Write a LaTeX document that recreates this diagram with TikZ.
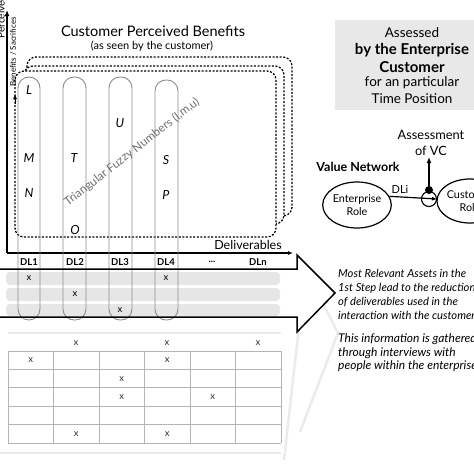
\documentclass[tikz,border=0pt]{standalone}
\usepackage{fontspec}
\setmainfont{Lato}
\usetikzlibrary{arrows.meta,shapes.geometric}
\definecolor{pillarc}{HTML}{8C8C8C}
\definecolor{bandc}{HTML}{E6E6E6}
\definecolor{boxc}{HTML}{E8E8E8}
\definecolor{gridc}{HTML}{B4B4B4}
\definecolor{ghostc}{HTML}{EBEBEB}
\definecolor{fuzzc}{HTML}{707070}
\begin{document}
\begin{tikzpicture}[x=1pt,y=-1pt,
  card/.style={draw=black,line width=1.3pt,dash pattern=on 2pt off 1.6pt,rounded corners=9pt,fill=white},
  pillar/.style={draw=pillarc,line width=0.9pt,rounded corners=11pt},
  band/.style={fill=bandc,rounded corners=4pt},
  axis/.style={draw=black,line width=1.2pt},
  xm/.style={inner sep=0pt,font=\fontsize{9.5}{10}\selectfont},
  xg/.style={inner sep=0pt,font=\fontsize{9.5}{10}\selectfont,text=black!80},
  dl/.style={inner sep=0pt,font=\bfseries\fontsize{9.5}{10}\selectfont},
  gridl/.style={draw=gridc,line width=0.7pt},
  lett/.style={inner sep=0pt,font=\itshape\fontsize{12.5}{13}\selectfont},
  rtxt/.style={anchor=base west,inner sep=0pt,font=\itshape\fontsize{11.2}{12}\selectfont},
  rtxtb/.style={anchor=base west,inner sep=0pt,font=\itshape\fontsize{12}{13}\selectfont},
  boxt/.style={inner sep=0pt,font=\fontsize{13.5}{15}\selectfont},
  boxtb/.style={inner sep=0pt,font=\bfseries\fontsize{15}{16}\selectfont},
  role/.style={draw=black,line width=1.2pt,ellipse,minimum width=62pt,minimum height=46pt,inner sep=0pt,align=center,font=\fontsize{10.8}{12.5}\selectfont},
  tip/.style={-{Latex[length=6pt,width=5pt]}}
]
\useasboundingbox (0,0) rectangle (474,474);
\clip (0,0) rectangle (474,474);

% ghost chevron behind the lower table
\draw[ghostc,line width=2.5pt] (300,258) -- (338,333) -- (300,432);
\draw[ghostc,line width=2.5pt] (300,318) -- (284,460);
\draw[ghostc,line width=1.5pt] (8,333) -- (281,333);
\draw[ghostc,line width=1.5pt] (0,453) -- (281,453);

% lower table
\foreach \x in {8,53.5,99,144.5,190,235.5,281} \draw[gridl] (\x,351) -- (\x,443);
\foreach \y in {351,369.4,387.8,406.2,424.6,443} \draw[gridl] (8,\y) -- (281,\y);
\node[xg] (t0a) at (76,343) {x};
\node[xg] (t0b) at (167,343) {x};
\node[xg] (t0c) at (258,343) {x};
\node[xg] (t1a) at (30.75,360) {x};
\node[xg] (t1b) at (167.25,360) {x};
\node[xg] (t2a) at (121.75,378.6) {x};
\node[xg] (t3a) at (121.75,397) {x};
\node[xg] (t3b) at (212.75,397) {x};
\node[xg] (t5a) at (76.25,433.8) {x};
\node[xg] (t5b) at (167.25,433.8) {x};

% stacked dashed cards
\draw[card] (27,57) rectangle (292,216);
\draw[card] (24,66) rectangle (284,224);
\draw[card] (15,71) rectangle (276,237);
\draw[-{Latex[length=5pt,width=4pt]},line width=0.9pt] (15,104) -- (15,94);

% axes
\coordinate (orig) at (7,253);
\coordinate (ytop) at (7,10);
\coordinate (xend) at (293,253);
\draw[axis,tip] (orig) -- (ytop);
\draw[axis,-{Latex[length=5pt,width=4pt]}] (orig) -- (xend);
\node[rotate=90,inner sep=0pt,font=\fontsize{10}{12}\selectfont] (perc) at (1,17) {Perceived};
\node[rotate=90,inner sep=0pt,font=\fontsize{8}{9}\selectfont] (bens) at (13,52) {Benefits / Sacrifices};
\node[inner sep=0pt,font=\fontsize{12.5}{14}\selectfont] (deliv) at (248,245) {Deliverables};

% titles
\node[inner sep=0pt,font=\fontsize{14.5}{16}\selectfont] (title) at (153,31) {Customer Perceived Benefits};
\node[inner sep=0pt,font=\fontsize{11}{12}\selectfont] (subtitle) at (152,46) {(as seen by the customer)};

% big arrow band
\draw[fill=white,draw=none] (-5,269) -- (297,269) -- (297,255) -- (335,293) -- (297,332) -- (297,317) -- (-5,317) -- cycle;
\fill[band] (6,272) rectangle (280,285);
\fill[band] (6,288) rectangle (280,301);
\fill[band] (6,304) rectangle (280,316);

% pillars
\draw[pillar] (18,77) rectangle (40,320);
\draw[pillar] (63,77) rectangle (86,320);
\draw[pillar] (109,77) rectangle (132,320);
\draw[pillar] (155,80) rectangle (178,320);

\draw[line width=1.5pt,line join=miter] (-5,269) -- (297,269) -- (297,255) -- (335,293) -- (297,332) -- (297,317) -- (-5,317);

% header labels
\node[dl] (dl1) at (29,262) {DL1};
\node[dl] (dl2) at (75,262) {DL2};
\node[dl] (dl3) at (120,262) {DL3};
\node[dl] (dl4) at (166,262) {DL4};
\node[dl] (dld) at (212,262) {...};
\node[dl] (dln) at (258,262) {DLn};

% x marks in the arrow
\node[xm] (x1) at (29,278.5) {x};
\node[xm] (x2) at (166,278.5) {x};
\node[xm] (x3) at (75,294.5) {x};
\node[xm] (x4) at (120,310.5) {x};

% letters in pillars
\node[lett] (lL) at (29,90) {L};
\node[lett] (lM) at (29,158) {M};
\node[lett] (lN) at (29,193) {N};
\node[lett] (lT) at (74,158) {T};
\node[lett] (lO) at (75,230) {O};
\node[lett] (lU) at (120,123) {U};
\node[lett] (lS) at (166,160) {S};
\node[lett] (lP) at (166,195) {P};

\node[rotate=38,inner sep=0pt,text=fuzzc,font=\fontsize{11.8}{13}\selectfont] (fuzzy) at (132,152) {Triangular Fuzzy Numbers (l,m,u)};

% assessed box
\fill[boxc] (335,20) rectangle (500,110);
\node[boxt] (b1) at (412,33) {Assessed};
\node[boxtb] (b2) at (412,50) {by the Enterprise};
\node[boxtb] (b3) at (412,67) {Customer};
\node[boxt] (b4) at (412,83) {for an particular};
\node[boxt] (b5) at (412,99) {Time Position};

% value network
\node[inner sep=0pt,font=\fontsize{12.8}{14}\selectfont] (as1) at (431,135) {Assessment};
\node[inner sep=0pt,font=\fontsize{12.8}{14}\selectfont] (as2) at (431,151) {of VC};
\node[inner sep=0pt,font=\bfseries\fontsize{12.5}{14}\selectfont] (vn) at (358,167) {Value Network};
\node[role] (ent) at (357,205) {Enterprise\\Role};
\node[role,minimum width=66pt,minimum height=44pt] (cust) at (470,201) {Customer\\Role};
\node[draw=black,line width=1.1pt,circle,minimum size=15pt,inner sep=0pt] (hub) at (429,199) {};
\node[fill=black,circle,minimum size=8pt,inner sep=0pt] (dot) at (429,190) {};
\node[inner sep=0pt,font=\fontsize{11}{12}\selectfont] (dli) at (400,189) {DLi};
\draw[line width=1.2pt,-{Latex[length=5pt,width=4pt]}] (ent.15) -- (hub.east);
\draw[line width=1.5pt,tip] (dot) -- (429,157);

% right italic text
\node[rtxt] (r1) at (338,277) {Most Relevant Assets in the};
\node[rtxt] (r2) at (338,291) {1st Step lead to the reduction};
\node[rtxt] (r3) at (338,305) {of deliverables used in the};
\node[rtxt] (r4) at (338,319) {interaction with the customer};
\node[rtxtb] (r5) at (338,342) {This information is gathered};
\node[rtxtb] (r6) at (338,356) {through interviews with};
\node[rtxtb] (r7) at (338,369) {people within the enterprise};
\end{tikzpicture}
\end{document}
